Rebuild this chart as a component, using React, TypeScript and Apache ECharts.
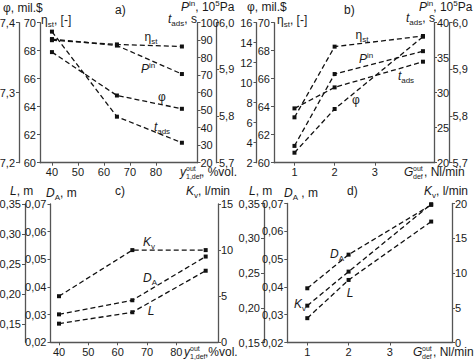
import React, { useEffect, useRef } from 'react';
import * as echarts from 'echarts';

// ---------- data ----------
// Panel a) x = y_out_1,def (%vol.)
const aX = [40, 65, 90];
const aXTicks = [40, 50, 60, 70, 80];
const aEta = [68.75, 68.45, 68.3];
const aP = [5.965, 5.951, 5.89];
const aPhi = [7.358, 7.296, 7.277];
const aTads = [94.9, 46.3, 31.4];

// Panel b) x = G_out_def (Nl/min)
const bX = [1, 2, 4.2];
const bXTicks = [1, 2, 3];
const bEta = [63.24, 68.29, 69.05];
const bP = [5.736, 5.89, 5.939];
const bTads = [27.76, 30.76, 34.43];
const bPhi = [3.0, 7.37, 14.6];

// Panel c) x = y_out_1,def (%vol.)
const cX = [40, 65, 90];
const cXTicks = [40, 50, 60, 70, 80];
const cKv = [5.0, 10.0, 10.0];
const cDA = [0.0301, 0.0352, 0.051];
const cL = [0.151, 0.17, 0.239];
const cLTicks = [0.15, 0.2, 0.25, 0.3, 0.35];

// Panel d) x = G_out_def (Nl/min)
const dX = [1, 2, 4];
const dXTicks = [1, 2, 3];
const dDA = [0.0395, 0.0516, 0.0695];
const dKv = [5.3, 10.2, 19.9];
const dL = [0.185, 0.24, 0.324];

// ---------- style ----------
const F = '"Liberation Sans", Arial, sans-serif';
const TC = '#1a1a1a';
const AX = '#555';
const LINE = '#111';
const font = (s: number, it = false) => `${it ? 'italic ' : ''}${s}px ${F}`;

const comma = (d: number) => (v: number) => v.toFixed(d).replace('.', ',');

function yAx(gridIndex: number, position: string, offset: number, min: number, max: number, interval: number | null, fmt: any, margin: number, custom?: number[]) {
  const ax: any = {
    type: 'value', gridIndex, position, offset, min, max,
    axisLine: { show: true, onZero: false, lineStyle: { color: AX, width: 1.3 } },
    axisTick: { show: true, inside: false, length: 3, lineStyle: { color: AX, width: 1 } },
    axisLabel: { color: TC, fontSize: 11, fontFamily: F, margin, formatter: fmt },
    splitLine: { show: false },
  };
  if (interval !== null) ax.interval = interval;
  if (custom) {
    ax.axisTick.customValues = custom;
    ax.axisLabel.customValues = custom;
  }
  return ax;
}

function xAx(gridIndex: number, min: number, max: number, ticks: number[]) {
  return {
    type: 'value', gridIndex, min, max,
    axisLine: { show: true, onZero: false, lineStyle: { color: AX, width: 1.3 } },
    axisTick: { show: true, length: 3, customValues: ticks, lineStyle: { color: AX } },
    axisLabel: { color: TC, fontSize: 11, fontFamily: F, margin: 4, customValues: ticks },
    splitLine: { show: false },
  };
}

function ser(xi: number, yi: number, xs: number[], ys: number[]) {
  return {
    type: 'line', xAxisIndex: xi, yAxisIndex: yi,
    data: xs.map((x, i) => [x, ys[i]]),
    symbol: 'rect', symbolSize: 4, showSymbol: true,
    lineStyle: { type: [5, 3], width: 1.3, color: LINE },
    itemStyle: { color: LINE },
    silent: true,
  };
}

const RICH: any = {
  n: { font: font(12), fill: TC, lineHeight: 16 },
  i: { font: font(12, true), fill: TC, lineHeight: 16 },
  sb: { font: font(8), fill: TC, verticalAlign: 'bottom', lineHeight: 9 },
  sp: { font: font(8), fill: TC, verticalAlign: 'top', lineHeight: 9 },
};

function rt(x: number, y: number, toks: [string, string][], align = 'left') {
  return {
    type: 'text', x, y, silent: true,
    style: {
      text: toks.map(([s, t]) => `{${s}|${t}}`).join(''),
      rich: RICH, align, verticalAlign: 'middle', font: font(12), fill: TC,
    },
  };
}

function tx(x: number, y: number, text: string, size: number, it = false) {
  return { type: 'text', x, y, silent: true, style: { text, font: font(size, it), fill: TC, align: 'left', verticalAlign: 'middle' } };
}

function xTitle(x: number, y: number, main: string, mainW: number, sup: string, sub: string, subW: number, rest: string) {
  return [
    tx(x, y, main, 12, true),
    tx(x + mainW, y - 4, sup, 7),
    tx(x + mainW, y + 4, sub, 7),
    tx(x + mainW + subW, y, rest, 12),
  ];
}

const graphics: any[] = [
  // panel a
  rt(3, 8, [['n', 'φ, mil.$']]),
  rt(41, 20, [['n', 'η'], ['sb', 'st'], ['n', ', [-]']]),
  rt(115, 10, [['n', 'a)']]),
  rt(181, 7, [['i', 'P'], ['sp', 'in'], ['n', ', 10'], ['sp', '5'], ['n', 'Pa']]),
  rt(168, 19, [['i', 't'], ['sb', 'ads'], ['n', ', s']]),
  rt(151, 37, [['n', 'η'], ['sb', 'st']], 'center'),
  rt(148, 69, [['i', 'P'], ['sp', 'in']], 'center'),
  rt(162, 97, [['n', 'φ']], 'center'),
  rt(162, 127, [['i', 't'], ['sb', 'ads']], 'center'),
  ...xTitle(180, 172, 'y', 6, 'out', '1,def', 15, ', %vol.'),
  // panel b
  rt(247, 7, [['n', 'φ, mil.$']]),
  rt(277, 20, [['n', 'η'], ['sb', 'st'], ['n', ', [-]']]),
  rt(344, 10, [['n', 'b)']]),
  rt(419, 7, [['i', 'P'], ['sp', 'in'], ['n', ', 10'], ['sp', '5'], ['n', 'Pa']]),
  rt(406, 18, [['i', 't'], ['sb', 'ads'], ['n', ', s']]),
  rt(362, 35, [['n', 'η'], ['sb', 'st']], 'center'),
  rt(366, 59, [['i', 'P'], ['sp', 'in']], 'center'),
  rt(406, 76, [['i', 't'], ['sb', 'ads']], 'center'),
  rt(356, 100, [['n', 'φ']], 'center'),
  ...xTitle(404, 172, 'G', 9, 'out', 'def', 11, ', Nl/min'),
  // panel c
  rt(10, 191, [['i', 'L'], ['n', ', m']]),
  rt(46, 193, [['i', 'D'], ['sb', 'A'], ['n', ', m']]),
  rt(115, 191, [['n', 'c)']]),
  rt(186, 191, [['i', 'K'], ['sb', 'v'], ['n', ', l/min']]),
  rt(149, 242, [['i', 'K'], ['sb', 'v']], 'center'),
  rt(150, 278, [['i', 'D'], ['sb', 'A']], 'center'),
  rt(151, 311, [['i', 'L']], 'center'),
  ...xTitle(184, 352, 'y', 6, 'out', '1,def', 15, ',%vol.'),
  // panel d
  rt(249, 191, [['i', 'L'], ['n', ', m']]),
  rt(284, 193, [['i', 'D'], ['sb', 'A'], ['n', ' , m']]),
  rt(347, 191, [['n', 'd)']]),
  rt(424, 191, [['i', 'K'], ['sb', 'v'], ['n', ', l/min']]),
  rt(337, 254, [['i', 'D'], ['sb', 'A']], 'center'),
  rt(300, 304, [['i', 'K'], ['sb', 'v']], 'center'),
  rt(350, 293, [['i', 'L']], 'center'),
  ...xTitle(413, 352, 'G', 9, 'out', 'def', 11, ', Nl/min'),
];

const option: any = {
  animation: false,
  backgroundColor: '#fff',
  grid: [
    { left: 40, top: 22.7, width: 157.5, height: 140, outerBoundsMode: 'none', containLabel: false },
    { left: 274, top: 22.7, width: 160, height: 140, outerBoundsMode: 'none', containLabel: false },
    { left: 50.5, top: 204, width: 167.5, height: 138.3, outerBoundsMode: 'none', containLabel: false },
    { left: 287.3, top: 203.5, width: 164.7, height: 139, outerBoundsMode: 'none', containLabel: false },
  ],
  xAxis: [
    xAx(0, 35.4, 96, aXTicks),
    xAx(1, 0.49, 4.475, bXTicks),
    xAx(2, 37.1, 94.2, cXTicks),
    xAx(3, 0.516, 4.504, dXTicks),
  ],
  yAxis: [
    yAx(0, 'left', 0, 60, 70, 2, null, 4),
    yAx(0, 'left', 21, 7.2, 7.4, 0.1, comma(1), 4),
    yAx(0, 'right', 0, 20, 100, 10, null, 3),
    yAx(0, 'right', 18.5, 5.7, 6.0, 0.1, comma(1), 3),
    yAx(1, 'left', 0, 60, 70, 2, null, 4),
    yAx(1, 'left', 17.5, 2, 16, 2, null, 4),
    yAx(1, 'right', 0, 20, 40, 5, null, 3),
    yAx(1, 'right', 15.5, 5.7, 6.0, 0.1, comma(1), 3),
    yAx(2, 'left', 0, 0.02, 0.07, 0.01, comma(2), 4),
    yAx(2, 'left', 25.5, 0.12, 0.35, null, comma(2), 4, cLTicks),
    yAx(2, 'right', 0, 0, 15, 5, null, 3),
    yAx(3, 'left', 0, 0.02, 0.07, 0.01, comma(2), 4),
    yAx(3, 'left', 23.3, 0.15, 0.35, 0.05, comma(2), 4),
    yAx(3, 'right', 0, 0, 20, 5, null, 3),
  ],
  series: [
    ser(0, 0, aX, aEta),
    ser(0, 1, aX, aPhi),
    ser(0, 2, aX, aTads),
    ser(0, 3, aX, aP),
    ser(1, 4, bX, bEta),
    ser(1, 5, bX, bPhi),
    ser(1, 6, bX, bTads),
    ser(1, 7, bX, bP),
    ser(2, 8, cX, cDA),
    ser(2, 9, cX, cL),
    ser(2, 10, cX, cKv),
    ser(3, 11, dX, dDA),
    ser(3, 12, dX, dL),
    ser(3, 13, dX, dKv),
  ],
  graphic: graphics,
};

export default function App() {
  const ref = useRef<HTMLDivElement>(null);
  useEffect(() => {
    const chart = echarts.init(ref.current!, null, { renderer: 'svg', width: 474, height: 361 });
    chart.setOption(option);
    return () => chart.dispose();
  }, []);
  return (
    <div
      ref={ref}
      style={{ position: 'absolute', left: 0, top: 0, width: 474, height: 361, background: '#fff' }}
    />
  );
}
